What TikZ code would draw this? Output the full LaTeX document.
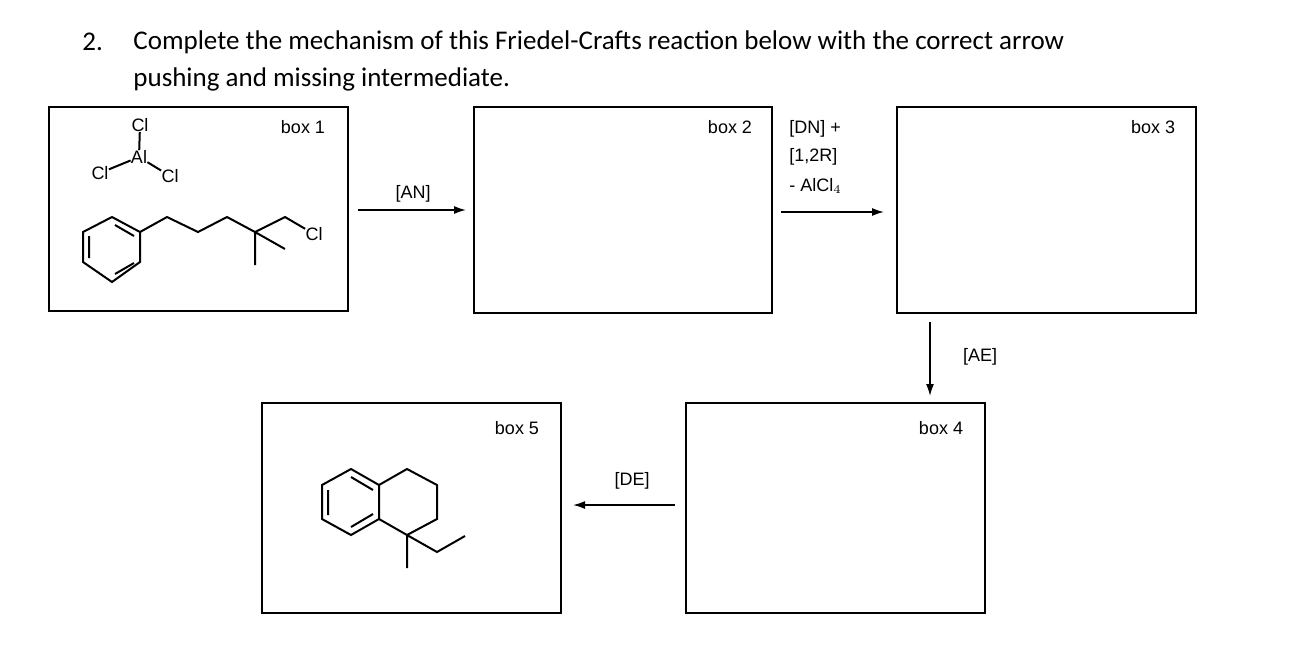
\documentclass[tikz,border=0pt]{standalone}
\usepackage{fontspec}
\setmainfont{Liberation Sans}
\newfontfamily\titlefont{Carlito}
\begin{document}
\begin{tikzpicture}[x=0.5pt,y=-0.5pt,
  bx/.style={draw,line width=1pt},
  bd/.style={line width=1pt},
  lab/.style={font=\fontsize{9}{11}\selectfont,inner sep=0pt},
  arr/.style={line width=0.8pt,-{Latex[length=6pt,width=4pt]}}]
\usetikzlibrary{arrows.meta}
\useasboundingbox (0,0) rectangle (1310,666);
\node[anchor=west,font=\titlefont\fontsize{13.5}{15}\selectfont,inner sep=0pt] (num) at (82,42) {2.};
\node[anchor=west,font=\titlefont\fontsize{13.5}{15}\selectfont,inner sep=0pt] (t1) at (133,42) {Complete the mechanism of this Friedel-Crafts reaction below with the correct arrow};
\node[anchor=west,font=\titlefont\fontsize{13.5}{15}\selectfont,inner sep=0pt] (t2) at (133,79) {pushing and missing intermediate.};
% boxes
\draw[bx] (49,107) rectangle (348,311);
\draw[bx] (474,107) rectangle (772,313);
\draw[bx] (897,107) rectangle (1196,313);
\draw[bx] (686,403) rectangle (985,613);
\draw[bx] (262,403) rectangle (561,613);
\node[lab] (b1) at (303,127) {box 1};
\node[lab] (b2) at (730,127) {box 2};
\node[lab] (b3) at (1153,127) {box 3};
\node[lab] (b4) at (941,428) {box 4};
\node[lab] (b5) at (517,428) {box 5};
% AlCl3
\node[lab] (al) at (139,157) {Al};
\node[lab] (c1) at (140,125) {Cl};
\node[lab] (c2) at (100,173) {Cl};
\node[lab] (c3) at (170,176) {Cl};
\draw[bd] (al) -- (c1);
\draw[bd] (al) -- (c2);
\draw[bd] (al) -- (c3);
% benzene + chain
\draw[bd] (112,217)--(140,232)--(140,262)--(112,282)--(83,262)--(83,232)--cycle;
\draw[bd] (89,236)--(89,258) (115,225)--(134,236) (115,274)--(134,263);
\node[lab] (cl) at (314,234) {Cl};
\draw[bd] (140,232)--(167,217)--(198,232)--(227,217)--(255,232)--(285,217)--(cl);
\draw[bd] (255,232)--(255,265) (255,232)--(285,249);
% box5 molecule
\draw[bd] (351,469)--(379,485)--(379,519)--(351,535)--(322,519)--(322,485)--cycle;
\draw[bd] (328,490)--(328,515) (351,477)--(373,490) (351,527)--(373,514);
\draw[bd] (379,485)--(407,469)--(437,485)--(437,519)--(407,535)--(379,519);
\draw[bd] (407,535)--(407,568) (407,535)--(437,552)--(465,536);
% arrows
\coordinate (a1s) at (358,210); \coordinate (a1e) at (466,210);
\draw[arr] (a1s)--(a1e);
\node[lab] (an) at (413,194) {[AN]};
\coordinate (a2s) at (781,212); \coordinate (a2e) at (884,212);
\draw[arr] (a2s)--(a2e);
\node[lab,anchor=west] (dn) at (789,129) {[DN] +};
\node[lab,anchor=west] (r12) at (789,157) {[1,2R]};
\node[lab,anchor=west] (alc) at (789,186) {- AlCl$_4$};
\coordinate (a3s) at (930,322); \coordinate (a3e) at (930,396);
\draw[arr] (a3s)--(a3e);
\node[lab] (ae) at (980,357) {[AE]};
\coordinate (a4s) at (675,505); \coordinate (a4e) at (573,505);
\draw[arr] (a4s)--(a4e);
\node[lab] (de) at (632,481) {[DE]};
\end{tikzpicture}
\end{document}
